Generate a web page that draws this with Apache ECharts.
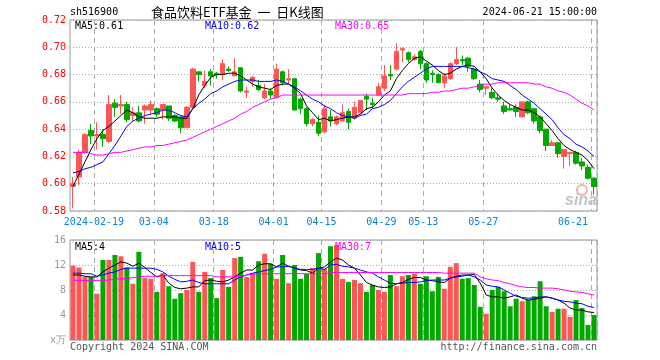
<!DOCTYPE html>
<html><head><meta charset="utf-8">
<script src="https://cdn.jsdelivr.net/npm/echarts@6/dist/echarts.min.js"></script>
<style>html,body{margin:0;padding:0;background:#fff}#c{width:660px;height:360px}</style>
</head><body><div id="c"></div>
<script>
const dates = [
'2024-02-05','2024-02-06','2024-02-07','2024-02-08','2024-02-19','2024-02-20','2024-02-21','2024-02-22','2024-02-23','2024-02-26','2024-02-27','2024-02-28','2024-02-29',
'2024-03-01','2024-03-04','2024-03-05','2024-03-06','2024-03-07','2024-03-08','2024-03-11','2024-03-12','2024-03-13','2024-03-14','2024-03-15','2024-03-18','2024-03-19','2024-03-20','2024-03-21','2024-03-22','2024-03-25','2024-03-26','2024-03-27','2024-03-28','2024-03-29',
'2024-04-01','2024-04-02','2024-04-03','2024-04-08','2024-04-09','2024-04-10','2024-04-11','2024-04-12','2024-04-15','2024-04-16','2024-04-17','2024-04-18','2024-04-19','2024-04-22','2024-04-23','2024-04-24','2024-04-25','2024-04-26','2024-04-29','2024-04-30',
'2024-05-06','2024-05-07','2024-05-08','2024-05-09','2024-05-10','2024-05-13','2024-05-14','2024-05-15','2024-05-16','2024-05-17','2024-05-20','2024-05-21','2024-05-22','2024-05-23','2024-05-24','2024-05-27','2024-05-28','2024-05-29','2024-05-30','2024-05-31',
'2024-06-03','2024-06-04','2024-06-05','2024-06-06','2024-06-07','2024-06-11','2024-06-12','2024-06-13','2024-06-14','2024-06-17','2024-06-18','2024-06-19','2024-06-20','2024-06-21'];

const tickDates = ['2024-02-19','2024-03-04','2024-03-18','2024-04-01','2024-04-15','2024-04-29','2024-05-13','2024-05-27','2024-06-21'];

const openP = [0.598,0.605,0.623,0.639,0.635,0.636,0.631,0.659,0.657,0.658,
0.650,0.652,0.654,0.654,0.655,0.654,0.657,0.650,0.649,0.641,
0.656,0.682,0.672,0.682,0.681,0.680,0.684,0.679,0.685,0.667,
0.675,0.672,0.663,0.668,0.663,0.682,0.676,0.677,0.662,0.655,
0.644,0.645,0.638,0.649,0.644,0.646,0.653,0.648,0.652,0.664,
0.659,0.665,0.670,0.680,0.684,0.698,0.696,0.691,0.697,0.688,
0.681,0.680,0.674,0.677,0.688,0.691,0.692,0.684,0.673,0.670,
0.667,0.663,0.657,0.655,0.656,0.649,0.660,0.655,0.649,0.640,
0.628,0.630,0.620,0.622,0.623,0.616,0.612,0.604];
const closeP = [0.600,0.623,0.636,0.635,0.636,0.633,0.658,0.656,0.658,0.647,
0.652,0.646,0.657,0.658,0.651,0.658,0.648,0.646,0.641,0.656,
0.684,0.680,0.675,0.679,0.680,0.688,0.683,0.682,0.668,0.668,
0.678,0.669,0.668,0.665,0.684,0.674,0.677,0.654,0.655,0.644,
0.647,0.637,0.655,0.646,0.649,0.652,0.645,0.656,0.661,0.662,
0.658,0.671,0.679,0.679,0.697,0.699,0.691,0.693,0.688,0.676,
0.680,0.674,0.679,0.688,0.691,0.690,0.686,0.677,0.669,0.671,
0.663,0.662,0.653,0.654,0.653,0.660,0.652,0.646,0.639,0.628,
0.630,0.622,0.625,0.623,0.615,0.613,0.604,0.598];
const lowP = [0.582,0.599,0.622,0.629,0.625,0.627,0.630,0.649,0.651,0.645,
0.645,0.645,0.644,0.651,0.649,0.647,0.646,0.645,0.637,0.641,
0.655,0.675,0.670,0.672,0.677,0.676,0.682,0.679,0.667,0.663,
0.671,0.668,0.662,0.662,0.663,0.672,0.673,0.654,0.651,0.642,
0.642,0.635,0.637,0.642,0.643,0.646,0.640,0.647,0.651,0.654,
0.656,0.665,0.668,0.676,0.683,0.689,0.689,0.690,0.684,0.674,
0.674,0.674,0.670,0.676,0.687,0.687,0.682,0.676,0.667,0.665,
0.662,0.660,0.651,0.654,0.649,0.649,0.651,0.644,0.637,0.624,
0.628,0.619,0.611,0.613,0.614,0.610,0.603,0.592];
const highP = [0.605,0.625,0.637,0.644,0.645,0.640,0.665,0.662,0.665,0.660,
0.656,0.657,0.658,0.661,0.656,0.658,0.657,0.651,0.649,0.657,
0.685,0.682,0.683,0.684,0.682,0.691,0.686,0.692,0.685,0.671,
0.679,0.676,0.673,0.670,0.688,0.683,0.684,0.677,0.663,0.656,
0.648,0.650,0.658,0.654,0.650,0.658,0.655,0.660,0.661,0.666,
0.663,0.674,0.687,0.687,0.703,0.700,0.697,0.695,0.698,0.689,
0.683,0.681,0.681,0.689,0.700,0.694,0.693,0.685,0.676,0.671,
0.670,0.666,0.660,0.658,0.658,0.660,0.661,0.655,0.650,0.640,
0.632,0.630,0.625,0.623,0.624,0.619,0.614,0.605];

const ma5 = [0.598,0.607,0.616,0.625,0.633,0.639,0.642,0.646,0.650,0.654,
0.652,0.649,0.648,0.648,0.648,0.649,0.649,0.649,0.648,0.648,
0.655,0.665,0.672,0.678,0.680,0.680,0.681,0.681,0.679,0.676,
0.673,0.671,0.670,0.669,0.672,0.673,0.673,0.670,0.666,0.657,
0.652,0.647,0.648,0.646,0.647,0.648,0.649,0.649,0.651,0.655,
0.656,0.660,0.665,0.668,0.677,0.683,0.688,0.692,0.693,0.690,
0.687,0.683,0.680,0.681,0.684,0.686,0.687,0.686,0.682,0.677,
0.670,0.665,0.661,0.658,0.656,0.654,0.654,0.652,0.649,0.644,
0.639,0.633,0.628,0.625,0.623,0.621,0.617,0.611];
const ma10 = [0.608,0.609,0.611,0.612,0.614,0.616,0.622,0.628,0.635,0.642,
0.646,0.648,0.650,0.651,0.652,0.654,0.654,0.652,0.650,0.649,
0.655,0.659,0.662,0.666,0.668,0.671,0.673,0.675,0.676,0.676,
0.676,0.675,0.675,0.675,0.676,0.675,0.673,0.671,0.668,0.665,
0.662,0.660,0.657,0.655,0.652,0.650,0.649,0.648,0.650,0.651,
0.655,0.656,0.658,0.661,0.666,0.671,0.675,0.678,0.681,0.684,
0.686,0.686,0.686,0.686,0.686,0.686,0.685,0.684,0.682,0.680,
0.677,0.676,0.675,0.672,0.669,0.665,0.662,0.659,0.655,0.651,
0.647,0.641,0.636,0.633,0.629,0.627,0.624,0.620];
const ma30 = [0.623,0.623,0.623,0.622,0.621,0.621,0.622,0.623,0.623,0.624,
0.625,0.626,0.627,0.627,0.628,0.628,0.629,0.630,0.631,0.632,
0.634,0.636,0.638,0.640,0.642,0.644,0.646,0.648,0.651,0.653,
0.656,0.658,0.660,0.662,0.663,0.665,0.665,0.665,0.665,0.665,
0.665,0.665,0.665,0.665,0.665,0.665,0.665,0.665,0.665,0.665,
0.665,0.665,0.665,0.665,0.665,0.665,0.666,0.666,0.666,0.666,
0.667,0.667,0.668,0.668,0.669,0.670,0.670,0.671,0.672,0.673,
0.673,0.674,0.674,0.674,0.674,0.674,0.674,0.673,0.673,0.671,
0.670,0.668,0.667,0.665,0.662,0.659,0.657,0.654];

const volume = [11.9,11.6,10.1,10.1,7.4,12.8,12.8,13.6,13.4,11.6,
9.0,14.1,9.9,9.8,7.7,10.7,8.6,6.6,7.5,8.0,
12.5,7.7,10.9,9.9,6.7,11.2,8.5,13.1,13.3,10.1,
10.7,12.6,13.8,12.2,9.8,13.6,9.1,12.0,9.8,10.6,
11.5,13.9,11.4,15.0,15.2,9.8,9.3,9.6,9.1,7.7,
8.8,8.0,7.7,10.4,8.6,10.2,10.4,10.6,9.0,10.2,
7.8,10.1,8.2,11.7,12.3,9.8,9.9,8.8,5.3,4.2,
8.0,8.5,7.8,5.4,6.6,6.2,6.4,7.0,9.4,5.4,
4.5,5.0,5.0,3.7,6.4,5.1,2.4,4.0];
const vma5 = [10.4,10.4,10.2,10.1,10.1,10.9,11.5,12.0,12.5,12.3,
11.8,12.3,11.6,10.8,10.1,10.4,9.1,8.4,8.2,8.3,
8.5,8.5,9.5,9.6,9.4,9.3,9.6,10.1,10.7,11.2,
11.2,12.0,12.2,12.2,11.7,12.3,11.8,11.5,11.2,11.1,
10.7,11.5,11.7,12.5,13.1,12.8,12.0,11.5,10.4,9.2,
8.8,8.5,8.4,8.5,9.0,9.2,9.7,10.0,10.0,9.6,
9.5,9.3,9.2,9.9,10.2,10.4,10.4,10.5,9.1,7.2,
6.9,6.9,6.7,6.9,7.2,6.7,6.4,6.5,6.7,6.9,
6.7,6.4,5.9,5.1,4.8,4.8,4.5,4.4];
const vma10 = [10.7,10.7,10.6,10.6,10.2,10.4,10.7,10.9,11.3,11.5,
11.5,11.5,11.5,11.5,11.3,10.9,10.2,9.7,9.3,9.4,
9.6,9.2,9.0,9.0,9.0,9.0,9.0,9.6,10.1,10.4,
10.7,10.9,11.1,11.3,11.7,11.7,11.8,11.5,11.3,11.3,
11.3,11.5,11.3,12.0,12.1,11.8,11.7,11.5,11.2,10.9,
10.7,10.1,9.6,9.1,9.0,9.1,9.2,9.2,9.3,9.5,
9.6,9.6,9.6,9.9,10.1,10.2,10.4,10.1,9.6,8.8,
8.6,8.5,8.0,7.5,7.0,6.8,6.7,6.7,6.9,6.9,
6.7,6.4,6.2,6.1,5.9,5.8,5.4,5.2];
const vma30 = [9.6,9.5,9.5,9.5,9.5,9.5,9.6,9.7,9.8,9.8,
10.0,10.1,10.2,10.2,10.2,10.3,10.3,10.3,10.3,10.3,
10.3,10.3,10.3,10.3,10.1,10.1,10.1,10.1,10.2,10.4,
10.5,10.6,10.6,10.6,10.6,10.6,10.6,10.7,10.6,10.6,
10.6,10.6,10.6,10.8,10.8,10.8,10.8,10.8,10.8,10.8,
10.8,10.8,10.8,10.8,10.8,10.8,10.8,10.8,10.8,10.8,
10.8,10.8,10.7,10.7,10.7,10.7,10.7,10.7,10.1,9.8,
9.6,9.5,9.2,9.0,8.7,8.5,8.4,8.4,8.3,8.3,
8.3,8.2,8.0,7.8,7.7,7.6,7.4,7.2];

const UP = '#ff5555', DOWN = '#00a800';
const MONO = '"DejaVu Sans Mono", monospace';
const kdata = dates.map((d, i) => [openP[i], closeP[i], lowP[i], highP[i]]);
const isTick = (idx) => tickDates.indexOf(dates[idx]) >= 0;
const dashLine = {show: true, interval: isTick, lineStyle: {color: '#aaa', type: [5, 4], width: 1}};
const dotLine = {show: true, lineStyle: {color: '#aaa', type: [1, 2], width: 1}};

const chart = echarts.init(document.getElementById('c'));
chart.setOption({
  animation: false,
  grid: [
    {left: 70, right: 63, top: 20, height: 191, show: true, borderColor: '#999', borderWidth: 1},
    {left: 70, right: 63, top: 240, height: 100, show: true, borderColor: '#999', borderWidth: 1}
  ],
  xAxis: [
    {type: 'category', gridIndex: 0, data: dates, boundaryGap: true,
     axisLine: {show: false}, axisTick: {show: false, interval: isTick},
     axisLabel: {interval: isTick, color: '#0a84d0', fontFamily: MONO, fontSize: 10, margin: 6,
       padding: [0, 6, 0, 0], alignMaxLabel: 'right',
       formatter: (v) => v === tickDates[0] ? v : v.slice(5)},
     splitLine: dashLine},
    {type: 'category', gridIndex: 1, data: dates, boundaryGap: true,
     axisLine: {show: false}, axisTick: {show: false, interval: isTick},
     axisLabel: {show: false, interval: isTick}, splitLine: dashLine}
  ],
  yAxis: [
    {type: 'value', gridIndex: 0, min: 0.58, max: 0.72, interval: 0.02,
     axisLine: {show: false}, axisTick: {show: false},
     axisLabel: {color: '#ff0000', fontFamily: MONO, fontSize: 10, margin: 4, formatter: (v) => v.toFixed(2)},
     splitLine: dotLine},
    {type: 'value', gridIndex: 1, min: 0, max: 16, interval: 4,
     axisLine: {show: false}, axisTick: {show: false},
     axisLabel: {color: '#999', fontFamily: MONO, fontSize: 10, margin: 4, formatter: (v) => v === 0 ? 'x万' : String(v)},
     splitLine: dotLine}
  ],
  series: [
    {type: 'candlestick', xAxisIndex: 0, yAxisIndex: 0, data: kdata, barWidth: 5,
     itemStyle: {color: UP, color0: DOWN, borderColor: UP, borderColor0: DOWN, borderWidth: 1}},
    {type: 'line', xAxisIndex: 0, yAxisIndex: 0, data: ma5, symbol: 'none', lineStyle: {color: '#000', width: 1}, z: 3},
    {type: 'line', xAxisIndex: 0, yAxisIndex: 0, data: ma10, symbol: 'none', lineStyle: {color: '#0000ff', width: 1}, z: 3},
    {type: 'line', xAxisIndex: 0, yAxisIndex: 0, data: ma30, symbol: 'none', lineStyle: {color: '#ff00ff', width: 1}, z: 3},
    {type: 'bar', xAxisIndex: 1, yAxisIndex: 1, data: volume, barWidth: 5,
     itemStyle: {color: (p) => closeP[p.dataIndex] >= openP[p.dataIndex] ? UP : DOWN}},
    {type: 'line', xAxisIndex: 1, yAxisIndex: 1, data: vma5, symbol: 'none', lineStyle: {color: '#000', width: 1}, z: 3},
    {type: 'line', xAxisIndex: 1, yAxisIndex: 1, data: vma10, symbol: 'none', lineStyle: {color: '#0000ff', width: 1}, z: 3},
    {type: 'line', xAxisIndex: 1, yAxisIndex: 1, data: vma30, symbol: 'none', lineStyle: {color: '#ff00ff', width: 1}, z: 3}
  ],
  graphic: [
    {type: 'text', x: 70, y: 12, style: {text: 'sh516900', font: '10px ' + MONO, fill: '#000', verticalAlign: 'middle'}},
    {type: 'text', x: 151, y: 12, style: {text: '食品饮料ETF基金  一  日K线图', font: '13px "Noto Sans CJK SC"', fill: '#000', verticalAlign: 'middle'}},
    {type: 'text', x: 597, y: 12, style: {text: '2024-06-21 15:00:00', font: '10px ' + MONO, fill: '#000', align: 'right', verticalAlign: 'middle'}},
    {type: 'text', x: 75, y: 26, z: 10, style: {text: 'MA5:' + ma5[ma5.length - 1].toFixed(2), font: '10px ' + MONO, fill: '#000', verticalAlign: 'middle'}},
    {type: 'text', x: 205, y: 26, z: 10, style: {text: 'MA10:' + ma10[ma10.length - 1].toFixed(2), font: '10px ' + MONO, fill: '#0000ff', verticalAlign: 'middle'}},
    {type: 'text', x: 335, y: 26, z: 10, style: {text: 'MA30:' + ma30[ma30.length - 1].toFixed(2), font: '10px ' + MONO, fill: '#ff00ff', verticalAlign: 'middle'}},
    {type: 'text', x: 75, y: 247, z: 10, style: {text: 'MA5:' + Math.floor(vma5[vma5.length - 1]), font: '10px ' + MONO, fill: '#000', verticalAlign: 'middle'}},
    {type: 'text', x: 205, y: 247, z: 10, style: {text: 'MA10:' + Math.floor(vma10[vma10.length - 1]), font: '10px ' + MONO, fill: '#0000ff', verticalAlign: 'middle'}},
    {type: 'text', x: 335, y: 247, z: 10, style: {text: 'MA30:' + Math.floor(vma30[vma30.length - 1]), font: '10px ' + MONO, fill: '#ff00ff', verticalAlign: 'middle'}},
    {type: 'text', x: 70, y: 347, style: {text: 'Copyright 2024 SINA.COM', font: '10px ' + MONO, fill: '#555', verticalAlign: 'middle'}},
    {type: 'text', x: 597, y: 347, style: {text: 'http://finance.sina.com.cn', font: '10px ' + MONO, fill: '#555', align: 'right', verticalAlign: 'middle'}},
    {type: 'circle', shape: {cx: 582, cy: 190, r: 5}, style: {fill: 'none', stroke: '#f5b0b0', lineWidth: 2}, z: 1},
    {type: 'text', x: 581, y: 201, z: 1, style: {text: 'sina', font: 'italic bold 16px "Liberation Sans"', fill: '#c4c4c4', align: 'center', verticalAlign: 'middle'}}
  ]
});
</script></body></html>
